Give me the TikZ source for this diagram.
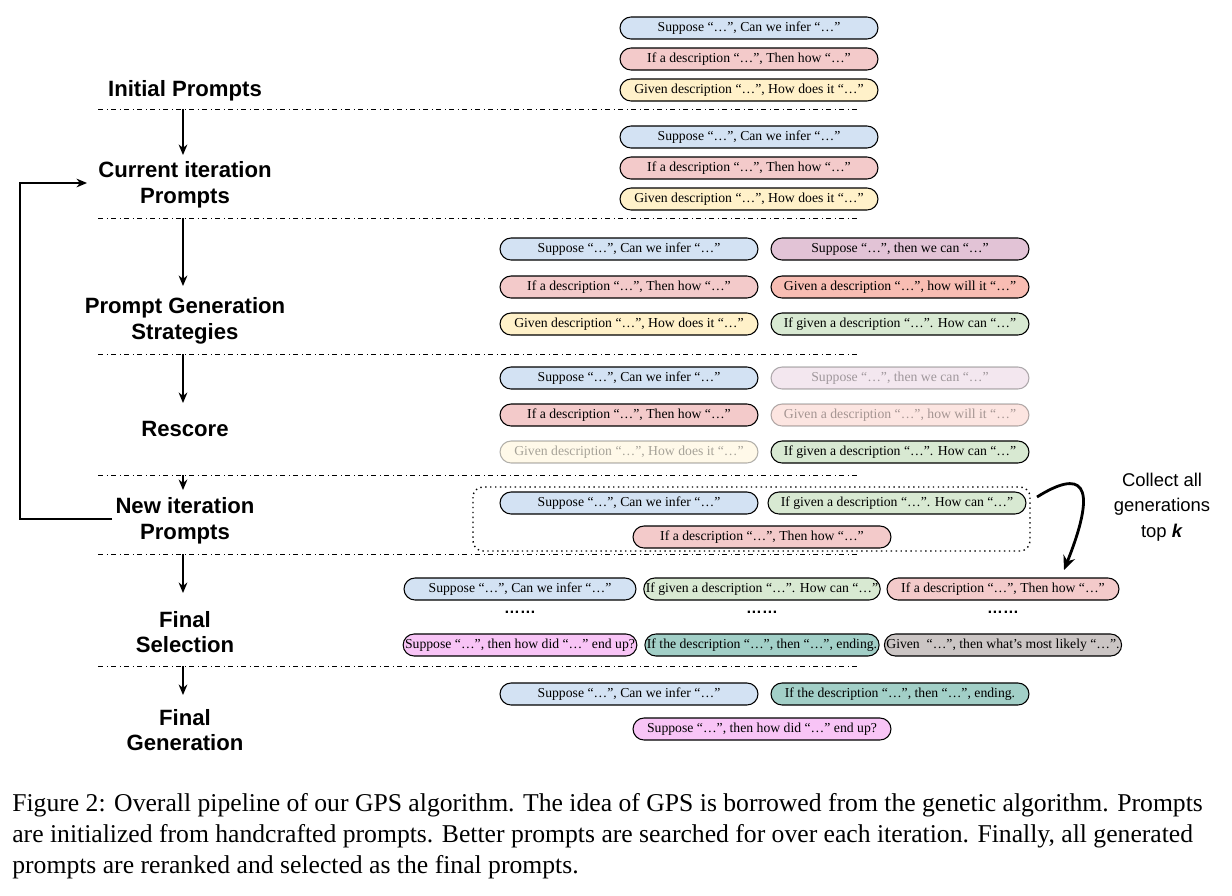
\documentclass[tikz,border=0pt]{standalone}
\usepackage{fontspec}
\setmainfont{Liberation Serif}
\newfontfamily\lsans{Liberation Sans}
\usetikzlibrary{arrows.meta,shapes.misc}
\definecolor{cb}{HTML}{D3E2F3}
\definecolor{cr}{HTML}{F3CACA}
\definecolor{cy}{HTML}{FFF1C9}
\definecolor{cp}{HTML}{E2C3D6}
\definecolor{co}{HTML}{F8BDB3}
\definecolor{cg}{HTML}{D8E9D2}
\definecolor{ck}{HTML}{F8C4F6}
\definecolor{ct}{HTML}{A2CFC7}
\definecolor{cq}{HTML}{CBC5C4}
\begin{document}
\begin{tikzpicture}[x=0.02cm,y=-0.02cm,
 pill/.style={draw=black,line width=0.6pt,rounded rectangle,minimum height=0.44cm,inner sep=0pt,font=\fontsize{7.8}{8}\selectfont},
 w1/.style={minimum width=5.16cm},
 w2/.style={minimum width=4.64cm},
 fade/.style={draw opacity=0.3,fill opacity=0.4,text opacity=0.35},
 lab/.style={font=\lsans\bfseries\fontsize{12.6}{14.5}\selectfont,align=center},
 sep/.style={dash dot,line width=0.5pt},
 arr/.style={-{Stealth[length=6pt,width=5pt]},line width=0.8pt},
 captxt/.style={anchor=west,font=\fontsize{14.6}{16}\selectfont,inner sep=0pt}]
\useasboundingbox (0,0) rectangle (1232,896);
% labels
\node[lab] (l1) at (185,91) {Initial Prompts};
\node[lab] (l2) at (185,185) {Current iteration\\Prompts};
\node[lab] (l3) at (185,321) {Prompt Generation\\Strategies};
\node[lab] (l4) at (185,429) {Rescore};
\node[lab] (l5) at (185,521) {New iteration\\Prompts};
\node[lab] (l6) at (185,632) {Final\\Selection};
\node[lab] (l7) at (185,730) {Final\\Generation};
% separators
\foreach \y/\n in {109/s1,218/s2,354/s3,475/s4,554/s5,666/s6}{
 \draw[sep] (98,\y) -- (858,\y);
 \coordinate (\n) at (183,\y);}
\coordinate (t1) at (183,155);
\coordinate (t2) at (183,286);
\coordinate (t3) at (183,403);
\coordinate (t4) at (183,490);
\coordinate (t5) at (183,593);
\coordinate (t6) at (183,695);
\draw[arr] (s1) -- (t1);
\draw[arr] (s2) -- (t2);
\draw[arr] (s3) -- (t3);
\draw[arr] (s4) -- (t4);
\draw[arr] (s5) -- (t5);
\draw[arr] (s6) -- (t6);
% feedback
\coordinate (fb1) at (112,519);
\coordinate (fb2) at (87,183);
\draw[arr] (fb1) -- (20,519) -- (20,183) -- (fb2);
% initial
\node[pill,w1,fill=cb] (a1) at (749,28) {Suppose “…”, Can we infer “…”};
\node[pill,w1,fill=cr] (a2) at (749,59) {If a description “…”, Then how “…”};
\node[pill,w1,fill=cy] (a3) at (749,90) {Given description “…”, How does it “…”};
% current
\node[pill,w1,fill=cb] (b1) at (749,137) {Suppose “…”, Can we infer “…”};
\node[pill,w1,fill=cr] (b2) at (749,168) {If a description “…”, Then how “…”};
\node[pill,w1,fill=cy] (b3) at (749,199) {Given description “…”, How does it “…”};
% generation
\node[pill,w1,fill=cb] (c1) at (629,249) {Suppose “…”, Can we infer “…”};
\node[pill,w1,fill=cr] (c2) at (629,287) {If a description “…”, Then how “…”};
\node[pill,w1,fill=cy] (c3) at (629,324) {Given description “…”, How does it “…”};
\node[pill,w1,fill=cp] (c4) at (900,249) {Suppose “…”, then we can “…”};
\node[pill,w1,fill=co] (c5) at (900,287) {Given a description “…”, how will it “…”};
\node[pill,w1,fill=cg] (c6) at (900,324) {If given a description “…”. How can “…”};
% rescore
\node[pill,w1,fill=cb] (d1) at (629,378) {Suppose “…”, Can we infer “…”};
\node[pill,w1,fill=cr] (d2) at (629,415) {If a description “…”, Then how “…”};
\node[pill,w1,fill=cy,fade] (d3) at (629,452) {Given description “…”, How does it “…”};
\node[pill,w1,fill=cp,fade] (d4) at (900,378) {Suppose “…”, then we can “…”};
\node[pill,w1,fill=co,fade] (d5) at (900,415) {Given a description “…”, how will it “…”};
\node[pill,w1,fill=cg] (d6) at (900,452) {If given a description “…”. How can “…”};
% new iteration
\draw[dotted,line width=0.8pt,rounded corners=2mm] (473,487) rectangle (1030,551);
\node[pill,w1,fill=cb] (e1) at (629,503) {Suppose “…”, Can we infer “…”};
\node[pill,w1,fill=cg] (e2) at (897,503) {If given a description “…”. How can “…”};
\node[pill,w1,fill=cr] (e3) at (762,537) {If a description “…”, Then how “…”};
% final selection
\node[pill,w2,fill=cb] (f1) at (520,589) {Suppose “…”, Can we infer “…”};
\node[pill,w2,fill=cg] (f2) at (762,589) {If given a description “…”. How can “…”};
\node[pill,w2,fill=cr] (f3) at (1003,589) {If a description “…”, Then how “…”};
\node[font=\lsans\bfseries\fontsize{9}{10}\selectfont] (g1) at (520,612) {……};
\node[font=\lsans\bfseries\fontsize{9}{10}\selectfont] (g2) at (762,612) {……};
\node[font=\lsans\bfseries\fontsize{9}{10}\selectfont] (g3) at (1003,612) {……};
\node[pill,w2,fill=ck] (f4) at (520,645) {Suppose “…”, then how did “…” end up?};
\node[pill,w2,fill=ct] (f5) at (762,645) {If the description “…”, then “…”, ending.};
\node[pill,w2,fill=cq] (f6) at (1003,645) {Given \ “…”, then what’s most likely “…”.};
% final generation
\node[pill,w1,fill=cb] (h1) at (629,694) {Suppose “…”, Can we infer “…”};
\node[pill,w1,fill=ct] (h2) at (900,694) {If the description “…”, then “…”, ending.};
\node[pill,w1,fill=ck] (h3) at (762,729) {Suppose “…”, then how did “…” end up?};
% collect
\node[font=\lsans\fontsize{10.5}{14.5}\selectfont,align=center] (col) at (1162,507) {Collect all\\generations\\top \textbf{\textit{k}}};
\coordinate (k1) at (1037,497);
\coordinate (k2) at (1064,570);
\draw[-{Stealth[length=8pt,width=7pt]},line width=1.6pt] (k1) .. controls (1080,470) and (1100,480) .. (k2);
% caption
\node[captxt] (p1) at (12,805) {Figure 2: Overall pipeline of our GPS algorithm. The idea of GPS is borrowed from the genetic algorithm. Prompts};
\node[captxt] (p2) at (12,836) {are initialized from handcrafted prompts. Better prompts are searched for over each iteration. Finally, all generated};
\node[captxt] (p3) at (12,867) {prompts are reranked and selected as the final prompts.};
\end{tikzpicture}
\end{document}
